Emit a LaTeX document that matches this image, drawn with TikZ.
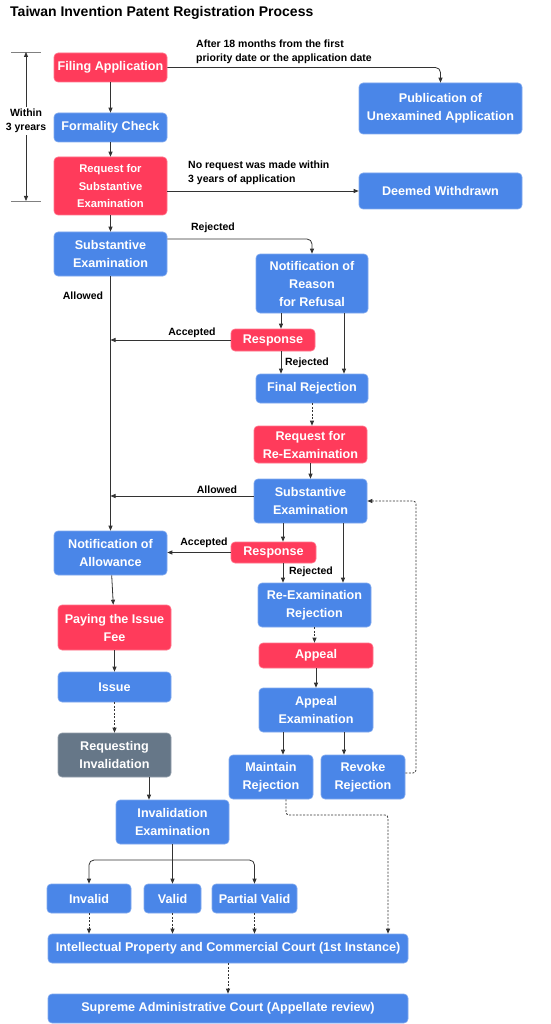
\documentclass[tikz,border=0pt]{standalone}
\usepackage{fontspec}
\setmainfont{Liberation Sans}
\usetikzlibrary{arrows.meta,calc}
\definecolor{boxred}{HTML}{FF3B5B}
\definecolor{boxblue}{HTML}{4A86E8}
\definecolor{boxgray}{HTML}{667788}
\definecolor{linec}{HTML}{333333}
\begin{document}
\begin{tikzpicture}[x=1pt,y=-1pt,
 box/.style={rounded corners=4pt, text=white, font=\bfseries\fontsize{12.6}{18}\selectfont, align=center, inner sep=0pt, line width=0.6pt},
 rbox/.style={box, fill=boxred, draw=boxred!70!white},
 bbox/.style={box, fill=boxblue, draw=boxblue!70!white},
 gbox/.style={box, fill=boxgray, draw=boxgray!70!white},
 arr/.style={draw=linec, line width=0.8pt, -{Triangle[length=5pt,width=4pt]}},
 darr/.style={arr, dash pattern=on 2pt off 1.5pt},
 plain/.style={draw=linec, line width=0.8pt},
 lbl/.style={font=\bfseries\fontsize{10.5}{14}\selectfont, text=black, inner sep=0pt, align=left},
]
\fill[white] (0,0) rectangle (550,1024);
\useasboundingbox (0,0) rectangle (550,1024);

\node[anchor=west, font=\bfseries\fontsize{14}{16}\selectfont, inner sep=0pt] (title) at (10,12.5) {Taiwan Invention Patent Registration Process};

% nodes
\node[rbox, minimum width=113pt, minimum height=29pt] (fa) at (110.5,67.5) {Filing Application};
\node[bbox, minimum width=113pt, minimum height=29pt] (fc) at (110.5,127.5) {Formality Check};
\node[rbox, minimum width=113pt, minimum height=58pt, font=\bfseries\fontsize{11.2}{17.5}\selectfont] (rse) at (110.5,186) {Request for\\Substantive\\Examination};
\node[bbox, minimum width=163pt, minimum height=51pt] (pub) at (440.5,108.5) {Publication of\\Unexamined Application};
\node[bbox, minimum width=163pt, minimum height=36pt] (dw) at (440.5,191) {Deemed Withdrawn};
\node[bbox, minimum width=113pt, minimum height=44pt] (se1) at (110.5,254) {Substantive\\Examination};
\node[bbox, minimum width=112pt, minimum height=59pt] (nrr) at (312,283.5) {Notification of\\Reason\\for Refusal};
\node[rbox, minimum width=84pt, minimum height=22pt] (resp1) at (273,340) {Response};
\node[bbox, minimum width=112pt, minimum height=29pt] (fr) at (312,388.5) {Final Rejection};
\node[rbox, minimum width=113pt, minimum height=37pt] (rre) at (310.5,444.5) {Request for\\Re-Examination};
\node[bbox, minimum width=113pt, minimum height=44pt] (se2) at (310.5,501) {Substantive\\Examination};
\node[bbox, minimum width=113pt, minimum height=44pt] (noa) at (110.5,553) {Notification of\\Allowance};
\node[rbox, minimum width=85pt, minimum height=21pt] (resp2) at (273.5,552.5) {Response};
\node[bbox, minimum width=113pt, minimum height=44pt] (rer) at (314.5,605) {Re-Examination\\Rejection};
\node[rbox, minimum width=113pt, minimum height=45pt] (pay) at (114.5,627.5) {Paying the Issue\\Fee};
\node[bbox, minimum width=113pt, minimum height=30pt] (iss) at (114.5,687) {Issue};
\node[gbox, minimum width=113pt, minimum height=44pt] (ri) at (114.5,755) {Requesting\\Invalidation};
\node[rbox, minimum width=114pt, minimum height=25pt] (app) at (316,655.5) {Appeal};
\node[bbox, minimum width=114pt, minimum height=44pt] (ae) at (316,710) {Appeal\\Examination};
\node[bbox, minimum width=84pt, minimum height=44pt] (mr) at (271,777) {Maintain\\Rejection};
\node[bbox, minimum width=84pt, minimum height=44pt] (rr) at (363,777) {Revoke\\Rejection};
\node[bbox, minimum width=113pt, minimum height=44pt] (ie) at (172.5,822) {Invalidation\\Examination};
\node[bbox, minimum width=84pt, minimum height=29pt] (inv) at (89,898.5) {Invalid};
\node[bbox, minimum width=57pt, minimum height=29pt] (val) at (172.5,898.5) {Valid};
\node[bbox, minimum width=85pt, minimum height=29pt] (pv) at (254.5,898.5) {Partial Valid};
\node[bbox, minimum width=360pt, minimum height=29pt] (c1) at (228,948.5) {Intellectual Property and Commercial Court (1st Instance)};
\node[bbox, minimum width=360pt, minimum height=29pt] (c2) at (228,1008.5) {Supreme Administrative Court (Appellate review)};

% dimension "within 3 years"
\coordinate (t1) at (26,52);
\coordinate (t2) at (26,201);
\node[lbl, align=center] (dim) at (26,121) {Within\\3 yrears};
\draw[draw=gray, line width=0.8pt] ([xshift=-15pt]t1) -- ([xshift=15pt]t1);
\draw[draw=gray, line width=0.8pt] ([xshift=-15pt]t2) -- ([xshift=15pt]t2);
\draw[arr] ([yshift=2pt]dim.north) -- (t1);
\draw[arr] ([yshift=-2pt]dim.south) -- (t2);

% connectors
\draw[arr, rounded corners=5pt] (fa.east) -| (pub.north);
\node[lbl, anchor=north west] (l1) at (196,40) {After 18 months from the first\\priority date or the application date};
\draw[arr] (fa) -- (fc);
\draw[arr] (fc) -- (rse);
\draw[arr] (rse.east |- dw.west) -- (dw.west);
\node[lbl, anchor=north west] (l2) at (188,161) {No request was made within\\3 years of application};
\draw[arr] (rse) -- (se1);
\draw[arr, rounded corners=5pt] ([yshift=15pt]se1.east) -| (nrr.north);
\node[lbl] (l3) at (213,228) {Rejected};
\draw[arr] (se1.south) -- (noa.north);
\node[lbl] (l4) at (83,296) {Allowed};
\draw[arr] ([xshift=-31pt]nrr.south) -- ([xshift=-31pt]nrr.south |- resp1.north);
\draw[arr] ([xshift=32pt]nrr.south) -- ([xshift=32pt]nrr.south |- fr.north);
\draw[arr] (resp1.west) -- (resp1.west -| se1.south);
\node[lbl] (l5) at (192,333) {Accepted};
\draw[arr] ([xshift=8pt]resp1.south) -- ([xshift=8pt]resp1.south |- fr.north);
\node[lbl] (l6) at (307,363) {Rejected};
\draw[darr] (fr.south) -- (fr.south |- rre.north);
\draw[arr] (rre) -- (se2);
\draw[arr] ([yshift=5pt]se2.west) -- ([yshift=5pt]se2.west -| se1.south);
\node[lbl] (l7) at (217,490) {Allowed};
\draw[arr] ([xshift=-27.5pt]se2.south) -- ([xshift=-27.5pt]se2.south |- resp2.north);
\draw[arr] ([xshift=32.5pt]se2.south) -- ([xshift=32.5pt]se2.south |- rer.north);
\draw[arr] (resp2.west) -- (resp2.west -| noa.east);
\node[lbl] (l8) at (204,543) {Accepted};
\draw[arr] ([xshift=9.5pt]resp2.south) -- ([xshift=9.5pt]resp2.south |- rer.north);
\node[lbl] (l9) at (311,572) {Rejected};
\draw[arr] (noa) -- (pay);
\draw[arr] (pay) -- (iss);
\draw[darr] (iss) -- (ri);
\draw[arr] ([xshift=34.5pt]ri.south) -- ([xshift=34.5pt]ri.south |- ie.north);
\draw[darr] (rer.south) -- (rer.south |- app.north);
\draw[arr] (app) -- (ae);
\draw[arr] ([xshift=-33pt]ae.south) -- ([xshift=-33pt]ae.south |- mr.north);
\draw[arr] ([xshift=28pt]ae.south) -- ([xshift=28pt]ae.south |- rr.north);
\coordinate (rrc) at (416,773);
\draw[darr, rounded corners=3pt] ([yshift=4pt]rr.east) -- (rrc) |- (se2.east);
\coordinate (mc) at (388,815);
\draw[darr, rounded corners=3pt] ([xshift=15pt]mr.south) |- (mc) -- (mc |- c1.north);
% invalidation branches
\coordinate (jn) at (172.5,860);
\draw[arr] (ie.south) -- (val.north);
\draw[arr, rounded corners=5pt] (jn) -| (inv.north);
\draw[arr, rounded corners=5pt] (jn) -| (pv.north);
\draw[darr] (inv.south) -- (inv.south |- c1.north);
\draw[darr] (val.south) -- (val.south |- c1.north);
\draw[darr] (pv.south) -- (pv.south |- c1.north);
\draw[darr] (c1) -- (c2);
\end{tikzpicture}
\end{document}
